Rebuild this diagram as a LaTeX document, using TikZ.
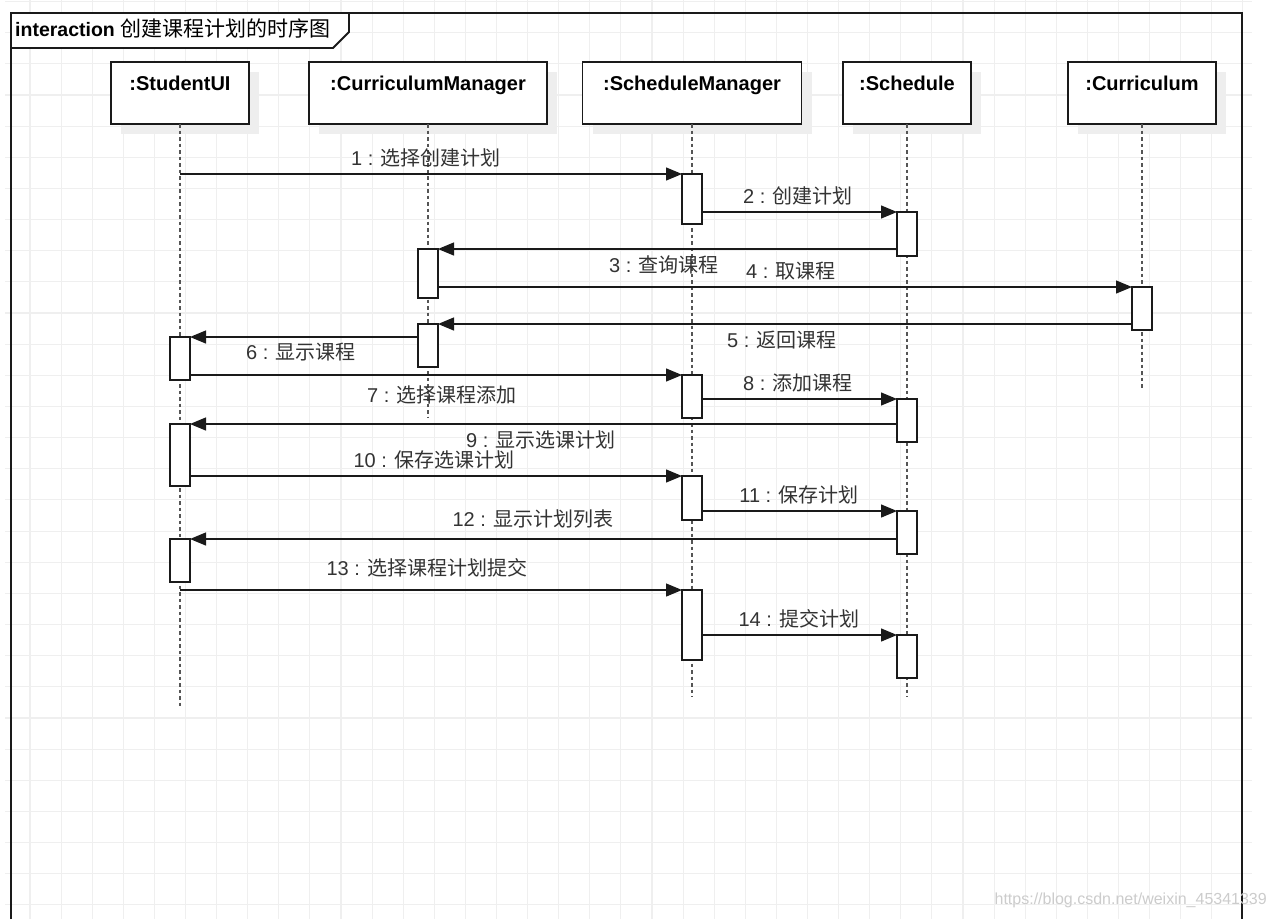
\documentclass[tikz,border=0pt]{standalone}
\usepackage{fontspec}
\setmainfont{Liberation Sans}
\newfontfamily\cjk{Noto Sans CJK SC}
\usetikzlibrary{arrows.meta,shadows}
\definecolor{gridc}{HTML}{EFEFEF}
\definecolor{linec}{HTML}{1A1A1A}
\definecolor{lifec}{HTML}{555555}
\definecolor{labc}{HTML}{333333}
\definecolor{shadc}{HTML}{EEEEEE}
\tikzset{
  gridline/.style={draw=gridc, line width=1.1pt},
  framec/.style={draw=linec, line width=1.8pt},
  hdr/.style={draw=linec, fill=white, line width=1.4pt, inner sep=0pt, outer sep=0pt,
    drop shadow={shadow xshift=10pt, shadow yshift=-10pt, fill=shadc, opacity=1}},
  hdrtext/.style={font=\bfseries\fontsize{20}{24}\selectfont, anchor=base, inner sep=0pt},
  life/.style={draw=lifec, line width=1.5pt, dash pattern=on 3.5pt off 3pt},
  act/.style={draw=linec, fill=white, line width=1.3pt, minimum width=20pt, inner sep=0pt, outer sep=0pt},
  msg/.style={draw=linec, line width=1.3pt, -{Triangle[length=16pt, width=13pt]}},
  msglab/.style={font=\fontsize{20}{24}\selectfont, text=labc, anchor=base, inner sep=0pt},
}
\begin{document}
\begin{tikzpicture}[x=1pt,y=-1pt]
\useasboundingbox (0,0) rectangle (1276,919);
\fill[white] (0,0) rectangle (1276,919);
% grid
\foreach \i in {0,...,39} \draw[gridline] ({30+31.1*\i},0) -- ({30+31.1*\i},919);
\foreach \j in {0,...,29} \draw[gridline] (5,{1.5+31.15*\j}) -- (1252,{1.5+31.15*\j});
% frame
\draw[framec] (11,919) -- (11,13) -- (1242,13) -- (1242,919);
\filldraw[framec, fill=white] (11,13) -- (349,13) -- (349,32) -- (333,48) -- (11,48) -- cycle;
\node[anchor=base west, inner sep=0pt, font=\fontsize{19.5}{23}\selectfont] (title) at (15,36)
  {\textbf{interaction} {\cjk\fontsize{21}{24}\selectfont 创建课程计划的时序图}};
% headers
\node[hdr, minimum width=138pt, minimum height=62pt] (hsu) at (180,93) {};
\node[hdr, minimum width=238pt, minimum height=62pt] (hcm) at (428,93) {};
\node[hdr, minimum width=219pt, minimum height=62pt] (hsm) at (692,93) {};
\node[hdr, minimum width=128pt, minimum height=62pt] (hsc) at (907,93) {};
\node[hdr, minimum width=148pt, minimum height=62pt] (hcu) at (1142,93) {};
\node[hdrtext] (tsu) at (180,90) {:StudentUI};
\node[hdrtext] (tcm) at (428,90) {:CurriculumManager};
\node[hdrtext] (tsm) at (692,90) {:ScheduleManager};
\node[hdrtext] (tsc) at (907,90) {:Schedule};
\node[hdrtext] (tcu) at (1142,90) {:Curriculum};
% lifeline ends
\coordinate (lsu) at (180,708);
\coordinate (lcm) at (428,418);
\coordinate (lsm) at (692,697);
\coordinate (lsc) at (907,697);
\coordinate (lcu) at (1142,390);
\draw[life] (hsu.south) -- (lsu);
\draw[life] (hcm.south) -- (lcm);
\draw[life] (hsm.south) -- (lsm);
\draw[life] (hsc.south) -- (lsc);
\draw[life] (hcu.south) -- (lcu);
% activation boxes
\node[act, minimum height=50pt] (a1) at (692,199) {};
\node[act, minimum height=43pt] (a2) at (692,396.5) {};
\node[act, minimum height=44pt] (a3) at (692,498) {};
\node[act, minimum height=70pt] (a4) at (692,625) {};
\node[act, minimum height=44pt] (b1) at (907,234) {};
\node[act, minimum height=43pt] (b2) at (907,420.5) {};
\node[act, minimum height=43pt] (b3) at (907,532.5) {};
\node[act, minimum height=43pt] (b4) at (907,656.5) {};
\node[act, minimum height=49pt] (c1) at (428,273.5) {};
\node[act, minimum height=43pt] (c2) at (428,345.5) {};
\node[act, minimum height=43pt] (d1) at (1142,308.5) {};
\node[act, minimum height=43pt] (e1) at (180,358.5) {};
\node[act, minimum height=62pt] (e2) at (180,455) {};
\node[act, minimum height=43pt] (e3) at (180,560.5) {};
% messages
\draw[msg] (lsu |- a1.north west) -- (a1.north west);
\draw[msg] (a1.east |- b1.north west) -- (b1.north west);
\draw[msg] (b1.west |- c1.north east) -- (c1.north east);
\draw[msg] (c1.east |- d1.north west) -- (d1.north west);
\draw[msg] (d1.west |- c2.north east) -- (c2.north east);
\draw[msg] (c2.west |- e1.north east) -- (e1.north east);
\draw[msg] (e1.east |- a2.north west) -- (a2.north west);
\draw[msg] (a2.east |- b2.north west) -- (b2.north west);
\draw[msg] (b2.west |- e2.north east) -- (e2.north east);
\draw[msg] (e2.east |- a3.north west) -- (a3.north west);
\draw[msg] (a3.east |- b3.north west) -- (b3.north west);
\draw[msg] (b3.west |- e3.north east) -- (e3.north east);
\draw[msg] (lsu |- a4.north west) -- (a4.north west);
\draw[msg] (a4.east |- b4.north west) -- (b4.north west);
% message labels
\node[msglab] (m1) at (426,165) {1 : {\cjk 选择创建计划}};
\node[msglab] (m2) at (798,203) {2 : {\cjk 创建计划}};
\node[msglab] (m3) at (664,272) {3 : {\cjk 查询课程}};
\node[msglab] (m4) at (791,278) {4 : {\cjk 取课程}};
\node[msglab] (m5) at (782,347) {5 : {\cjk 返回课程}};
\node[msglab] (m6) at (301,359) {6 : {\cjk 显示课程}};
\node[msglab] (m7) at (442,402) {7 : {\cjk 选择课程添加}};
\node[msglab] (m8) at (798,390) {8 : {\cjk 添加课程}};
\node[msglab] (m9) at (541,447) {9 : {\cjk 显示选课计划}};
\node[msglab] (m10) at (434,467) {10 : {\cjk 保存选课计划}};
\node[msglab] (m11) at (799,502) {11 : {\cjk 保存计划}};
\node[msglab] (m12) at (533,526) {12 : {\cjk 显示计划列表}};
\node[msglab] (m13) at (427,575) {13 : {\cjk 选择课程计划提交}};
\node[msglab] (m14) at (799,626) {14 : {\cjk 提交计划}};
% watermark
\node[anchor=base east, inner sep=0pt, text=black!20, font=\fontsize{16}{19}\selectfont] (wm) at (1267,904) {https://blog.csdn.net/weixin\_45341339};
\end{tikzpicture}
\end{document}
